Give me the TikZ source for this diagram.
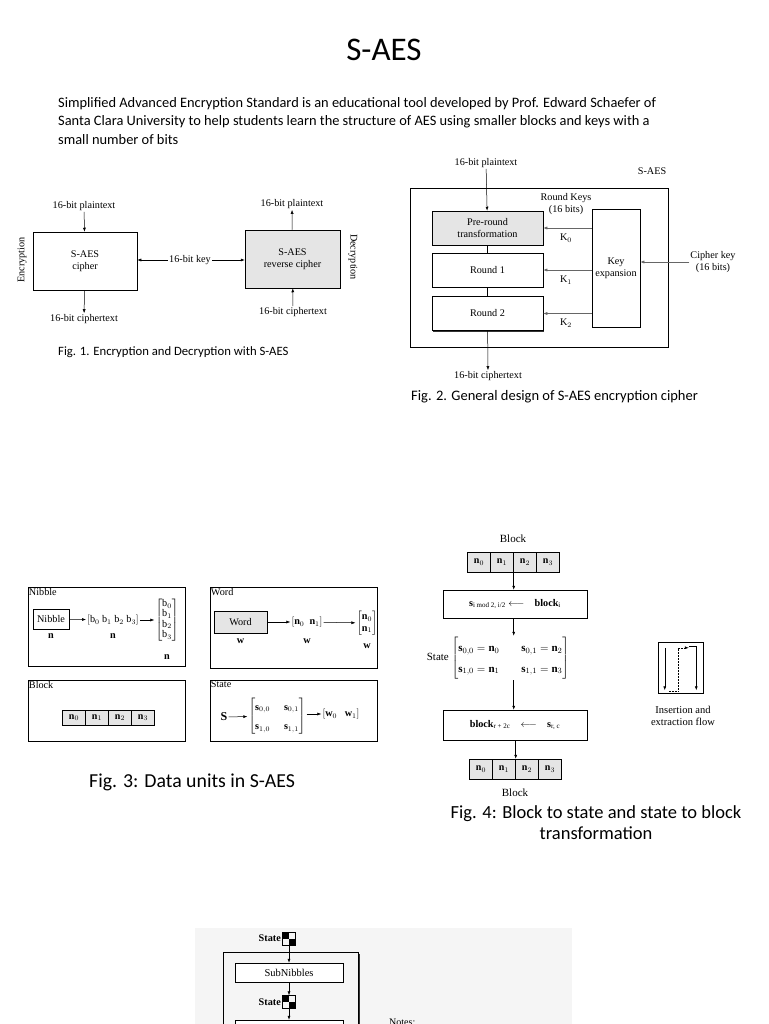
\documentclass[tikz,border=0pt]{standalone}
\usepackage{fontspec}
\setmainfont{Liberation Serif}
\newfontfamily\slidefont{Carlito}
\usetikzlibrary{arrows.meta,shadows,positioning,calc}

\tikzset{
  shbox/.style={draw, fill=white, line width=0.5pt, inner sep=1pt,
    drop shadow={shadow xshift=1.3pt, shadow yshift=-1.3pt, fill=black!80, opacity=1}},
  greybox/.style={shbox, fill=black!10},
  cell/.style={draw, fill=black!10, line width=0.4pt, minimum width=23, minimum height=20, inner sep=0pt, font=\bfseries\fontsize{10}{12}\selectfont},
  scan/.style={font=\fontsize{10.2}{11.5}\selectfont, inner sep=1pt},
  caption/.style={anchor=west, inner sep=0pt, font=\slidefont\fontsize{12.7}{15}\selectfont},
  bigcaption/.style={inner sep=0pt, font=\slidefont\fontsize{18.5}{21}\selectfont},
  arr/.style={->, line width=0.5pt},
}

\begin{document}
\begin{tikzpicture}[x=1pt, y=-1pt, >={Latex[length=4pt,width=3pt]}]
\useasboundingbox (0,0) rectangle (768,1024);

% title and introduction
\node[font=\slidefont\fontsize{33}{38}\selectfont] (title) at (384,50) {S-AES};
\node[anchor=north west, inner sep=0pt, align=left, font=\slidefont\fontsize{14.4}{18.5}\selectfont] (intro) at (58,97)
  {Simplified Advanced Encryption Standard is an educational tool developed by Prof. Edward Schaefer of\\
   Santa Clara University to help students learn the structure of AES using smaller blocks and keys with a\\
   small number of bits};

% Fig. 1
\begin{scope}[every node/.style={scan}]
  \node[shbox, minimum width=104, minimum height=58, align=center] (enc) at (85,261) {S-AES\\cipher};
  \node[greybox, minimum width=95, minimum height=58, align=center] (dec) at (292.5,259) {S-AES\\reverse cipher};
  \node (encpt) at (84,206) {16-bit plaintext};
  \node (encct) at (84,319) {16-bit ciphertext};
  \node (decpt) at (292,204) {16-bit plaintext};
  \node (decct) at (293,312) {16-bit ciphertext};
  \node (key) at (190,260) {16-bit key};
  \node[rotate=90] (enclab) at (22,260) {Encryption};
  \node[rotate=-90] (declab) at (353,257) {Decryption};
\end{scope}
\draw[arr] (encpt) -- (enc);
\draw[arr] (enc) -- (encct);
\draw[arr] (dec) -- (decpt);
\draw[arr] (decct) -- (dec);
\draw[arr] (key.west) -- (key.west -| enc.east);
\draw[arr] (key.east) -- (key.east -| dec.west);
\node[caption] (cap1) at (58,352) {Fig. 1. Encryption and Decryption with S-AES};

% Fig. 2
\begin{scope}[every node/.style={scan}]
  \node[shbox, minimum width=258, minimum height=159] (saes) at (539,267.5) {};
  \node (saeslab) at (652,171) {S-AES};
  \node (pt2) at (486,163) {16-bit plaintext};
  \node[greybox, minimum width=111, minimum height=34, align=center] (pre) at (487.5,228) {Pre-round\\transformation};
  \node[shbox, minimum width=111, minimum height=34] (r1) at (487.5,270) {Round 1};
  \node[shbox, minimum width=111, minimum height=34] (r2) at (487.5,313.5) {Round 2};
  \node[shbox, minimum width=48, minimum height=118, align=center] (kexp) at (616,268) {Key\\expansion};
  \node[align=center] (rk) at (566,204) {Round Keys\\(16 bits)};
  \node (k0) at (566,238) {K$_0$};
  \node (k1) at (566,280) {K$_1$};
  \node (k2) at (566,323) {K$_2$};
  \node[align=center] (ck) at (713,262) {Cipher key\\(16 bits)};
  \node (ct2) at (488,376) {16-bit ciphertext};
\end{scope}
\draw[arr] (pt2) -- (pre);
\draw (pre) -- (r1);
\draw (r1) -- (r2);
\draw[arr] (r2) -- (ct2);
\begin{scope}[black!60]
  \draw[arr] (pre.east -| kexp.west) -- (pre.east);
  \draw[arr] (r1.east -| kexp.west) -- (r1.east);
  \draw[arr] (r2.east -| kexp.west) -- (r2.east);
  \draw[arr] (ck.west) -- (ck.west -| kexp.east);
\end{scope}
\node[caption, font=\slidefont\fontsize{14.5}{17}\selectfont] (cap2) at (411,397) {Fig. 2. General design of S-AES encryption cipher};

% Fig. 3
\begin{scope}[every node/.style={scan}]
  \node[shbox, minimum width=157, minimum height=79] (nibp) at (106.5,626.5) {};
  \node[anchor=north west] (nibt) at (nibp.north west) {Nibble};
  \node[draw, fill=white, line width=0.4pt, minimum width=36, minimum height=20] (nib) at (51,619) {Nibble};
  \node (nibn1) at (51,636) {\textbf{n}};
  \node (brow) at (113,620) {$\left[\mbox{b$_0$ b$_1$ b$_2$ b$_3$}\right]$};
  \node (nibn2) at (113,636) {\textbf{n}};
  \node (bcol) at (167,620) {$\renewcommand{\arraystretch}{0.9}\left[\begin{array}{@{}c@{}}\mbox{b}_0\\\mbox{b}_1\\\mbox{b}_2\\\mbox{b}_3\end{array}\right]$};
  \node (nibn3) at (167,657) {\textbf{n}};

  \node[shbox, minimum width=157, minimum height=61] (blkp) at (106.5,710.5) {};
  \node[anchor=north west] (blkt) at (blkp.north west) {Block};

  \node[shbox, minimum width=167, minimum height=81] (wrdp) at (293.5,627.5) {};
  \node[anchor=north west] (wrdt) at (wrdp.north west) {Word};
  \node[draw, fill=black!10, line width=0.4pt, minimum width=53, minimum height=22] (wrd) at (240.5,622) {Word};
  \node (wrdw1) at (240.5,641) {\textbf{w}};
  \node (nrow) at (307,622) {$\left[\mbox{\textbf{n}$_0$\ \ \textbf{n}$_1$}\right]$};
  \node (wrdw2) at (307,641) {\textbf{w}};
  \node (ncol) at (367,623) {$\left[\begin{array}{@{}c@{}}\mbox{\textbf{n}}_0\\\mbox{\textbf{n}}_1\end{array}\right]$};
  \node (wrdw3) at (367,646) {\textbf{w}};

  \node[shbox, minimum width=167, minimum height=61] (stp) at (293.5,710.5) {};
  \node[anchor=north west] (stt) at (stp.north west) {State};
  \node[font=\bfseries\fontsize{12}{14}\selectfont] (S) at (224,717) {S};
  \node (smat) at (277,716) {$\renewcommand{\arraystretch}{1.7}\left[\begin{array}{@{}l@{\hspace{14pt}}l@{}}\mbox{\textbf{s}}_{0,0} & \mbox{\textbf{s}}_{0,1}\\\mbox{\textbf{s}}_{1,0} & \mbox{\textbf{s}}_{1,1}\end{array}\right]$};
  \node (wrow) at (341,714) {$\left[\mbox{\textbf{w}$_0$\ \ \ \textbf{w}$_1$}\right]$};
\end{scope}
\foreach \i in {0,...,3}
  \node[cell, minimum height=15] (bc\i) at (74+23*\i,717.5) {n$_\i$};
\draw[arr] (nib) -- (brow);
\draw[arr] (brow) -- (bcol);
\draw[arr] (wrd) -- (nrow);
\draw[arr] (nrow) -- (ncol);
\draw[arr] (S) -- (smat);
\draw[arr] (smat.east |- wrow) -- (wrow);
\node[bigcaption, anchor=west, font=\slidefont\fontsize{19.8}{23}\selectfont] (cap3) at (89,782) {Fig. 3: Data units in S-AES};

% Fig. 4
\begin{scope}[every node/.style={scan}]
  \node[font=\fontsize{11}{13}\selectfont] (blk1) at (513,539) {Block};
  \node[shbox, minimum width=144, minimum height=28] (to) at (515,604)
    {\textbf{s}$_{\mbox{\scriptsize i mod 2, i/2}}$ $\longleftarrow$\quad \textbf{block}$_{\mbox{\scriptsize i}}$};
  \node[font=\fontsize{11}{13}\selectfont] (state) at (498,658)
    {State $\renewcommand{\arraystretch}{1.55}\left[\begin{array}{@{}l@{\hspace{22pt}}l@{}}\mbox{\textbf{s}}_{0,0} = \mbox{\textbf{n}}_0 & \mbox{\textbf{s}}_{0,1} = \mbox{\textbf{n}}_2\\\mbox{\textbf{s}}_{1,0} = \mbox{\textbf{n}}_1 & \mbox{\textbf{s}}_{1,1} = \mbox{\textbf{n}}_3\end{array}\right]$};
  \node[shbox, minimum width=144, minimum height=30] (from) at (515,725)
    {\textbf{block}$_{\mbox{\scriptsize r + 2c}}$\quad $\longleftarrow$\quad \textbf{s}$_{\mbox{\scriptsize r, c}}$};
  \node[font=\fontsize{11}{13}\selectfont] (blk2) at (515,793) {Block};
  \node[draw, line width=0.5pt, minimum width=45, minimum height=51] (icon) at (680.5,667.5) {};
  \node[align=center, font=\fontsize{10.5}{12}\selectfont] (iconlab) at (683,716) {Insertion and\\extraction flow};
\end{scope}
\foreach \i in {0,...,3} {
  \node[cell] (t\i) at (479+23*\i,562) {n$_\i$};
  \node[cell] (u\i) at (481+23*\i,769) {n$_\i$};
}
\draw[arr] (t1.south east) -- (t1.south east |- to.north);
\draw[arr] (to.south -| t1.south east) -- (state.north -| t1.south east);
\draw[arr] (state.south -| t1.south east) -- (t1.south east |- from.north);
\draw[arr] (from.south -| u1.north east) -- (u1.north east);
\draw[arr] ($(icon.north west)+(7,6)$) -- ($(icon.south west)+(7,-3)$);
\draw[densely dotted, arr] ($(icon.south west)+(11,-2)$) -| ($(icon.north west)+(20,6)$) -- ($(icon.north west)+(31,6)$);
\draw[arr] ($(icon.north west)+(31,4)$) -| ($(icon.south east)+(-7,-3)$);
\node[bigcaption, align=center] (cap4) at (596,823) {Fig. 4: Block to state and state to block\\transformation};

% round structure (cut off)
\fill[black!4] (195,928) rectangle (572,1024);
\begin{scope}[every node/.style={scan}]
  \node[anchor=east] (st1) at (282,938) {\textbf{State}};
  \node[draw, minimum size=13, inner sep=0pt] (ic1) at (289,939) {};
  \node[shbox, minimum width=108, minimum height=19, font=\fontsize{10.5}{12}\selectfont] (subn) at (289,972.5) {SubNibbles};
  \node[anchor=east] (st2) at (282,1002) {\textbf{State}};
  \node[draw, minimum size=13, inner sep=0pt] (ic2) at (289,1002) {};
  \node[shbox, minimum width=108, minimum height=20] (shr) at (289,1030) {};
  \node[anchor=west, font=\fontsize{10}{12}\selectfont] (notes) at (388,1022) {Notes:};
\end{scope}
\foreach \n in {ic1,ic2} {
  \fill (\n.north west) rectangle (\n.center);
  \fill (\n.center) rectangle (\n.south east);
}
\draw[line width=0.5pt] (223,1024) -- (223,952) -- (358,952) -- (358,1024);
\draw[line width=1.3pt, black!80] (359.3,954) -- (359.3,1024);
\draw[arr] (ic1) -- (subn);
\draw[arr] (subn) -- (ic2);
\draw[arr] (ic2) -- (shr);
\end{tikzpicture}
\end{document}
